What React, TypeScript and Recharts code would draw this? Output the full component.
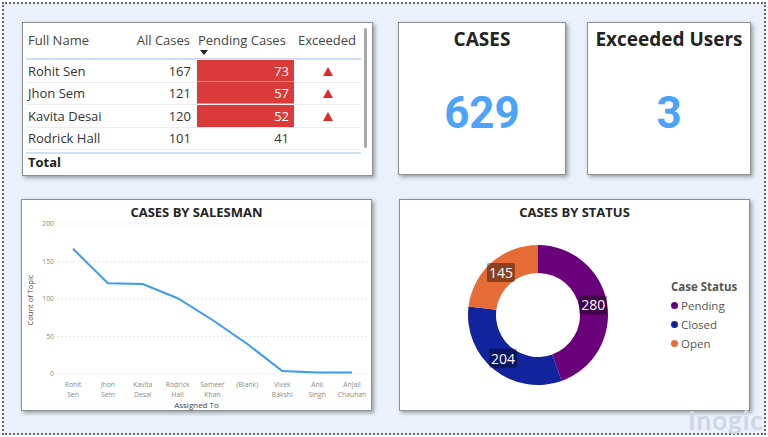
import React from 'react';
import { LineChart, Line, XAxis, YAxis, CartesianGrid, PieChart, Pie, Cell, Legend } from 'recharts';

const tableHeaders = ['Full Name', 'All Cases', 'Pending Cases', 'Exceeded'];
const tableNames = ['Rohit Sen', 'Jhon Sem', 'Kavita Desai', 'Rodrick Hall'];
const tableAllCases = [167, 121, 120, 101];
const tablePending = [73, 57, 52, 41];
const tableExceeded = [true, true, true, false];

const totalCases = 629;
const exceededUsers = 3;

const salesmen = ['Rohit Sen', 'Jhon Sem', 'Kavita Desai', 'Rodrick Hall', 'Sameer Khan', '(Blank)', 'Vivek Bakshi', 'Anil Singh', 'Anjali Chauhan'];
const salesmanCounts = [167, 121, 120, 101, 72, 40, 4, 2, 2];
const yTicks = [0, 50, 100, 150, 200];

const statusNames = ['Pending', 'Closed', 'Open'];
const statusCounts = [280, 204, 145];
const statusColors = ['#6B007B', '#12239E', '#E66C37'];

const lineData = salesmen.map((name, i) => ({ name, count: salesmanCounts[i] }));
const pieData = statusNames.map((name, i) => ({ name, value: statusCounts[i] }));

const FONT = "'Open Sans', 'Noto Sans', sans-serif";

const panel: React.CSSProperties = {
  position: 'absolute',
  background: '#fff',
  border: '1px solid #8f8f8f',
  boxShadow: '2px 2px 4px rgba(0,0,0,0.35)',
  boxSizing: 'border-box',
};

const XTick = (props: any) => {
  const { x, y, payload } = props;
  const parts = String(payload.value).split(' ');
  return (
    <text x={x} y={y} textAnchor="middle" fill="#8a8a8a" fontSize={6.8} fontFamily={FONT}>
      {parts.map((p: string, i: number) => (
        <tspan key={i} x={x} dy={i === 0 ? 5 : 9.5}>{p}</tspan>
      ))}
    </text>
  );
};

const RADIAN = Math.PI / 180;
const PieLabel = (props: any) => {
  const { cx, cy, midAngle, innerRadius, outerRadius, value } = props;
  const r = (innerRadius + outerRadius) / 2;
  const x = cx + r * Math.cos(-midAngle * RADIAN);
  const y = cy + r * Math.sin(-midAngle * RADIAN);
  return (
    <g>
      <rect x={x - 14} y={y - 10} width={28} height={19} rx={2} fill="rgba(0,0,0,0.4)" />
      <text x={x} y={y + 5} textAnchor="middle" fill="#fff" fontSize={14} fontFamily={FONT}>{value}</text>
    </g>
  );
};

const LegendContent = () => {
  return (
    <div style={{ fontFamily: FONT, color: '#555' }}>
      <div style={{ fontWeight: 700, fontSize: 11.5, lineHeight: '19px' }}>Case Status</div>
      {statusNames.map((name, i) => (
        <div key={name} style={{ display: 'flex', alignItems: 'center', fontSize: 11.5, lineHeight: '19px' }}>
          <span style={{ width: 7, height: 7, borderRadius: 4, background: statusColors[i], display: 'inline-block', marginRight: 3 }} />
          {name}
        </div>
      ))}
    </div>
  );
};

export default function App() {
  const rowTops = [37, 59, 82, 104];
  return (
    <div style={{ position: 'absolute', left: 0, top: 0, width: 768, height: 437, background: '#fff', overflow: 'hidden', fontFamily: FONT }}>
      <div style={{ position: 'absolute', left: 2, top: 2, width: 764, height: 433, boxSizing: 'border-box', border: '2px dotted #6a6a6a', background: '#EAF1FA' }} />

      {/* Table */}
      <div style={{ ...panel, left: 22, top: 22, width: 351, height: 154, color: '#333', fontSize: 13 }}>
        <div style={{ position: 'absolute', left: 5, top: 8, color: '#444' }}>{tableHeaders[0]}</div>
        <div style={{ position: 'absolute', right: 351 - 169, top: 8, color: '#444' }}>{tableHeaders[1]}</div>
        <div style={{ position: 'absolute', left: 175, top: 8, color: '#444' }}>{tableHeaders[2]}</div>
        <div style={{ position: 'absolute', left: 275, top: 8, color: '#444' }}>{tableHeaders[3]}</div>
        <div style={{ position: 'absolute', left: 177, top: 27, width: 0, height: 0, borderLeft: '4px solid transparent', borderRight: '4px solid transparent', borderTop: '5px solid #222' }} />
        <div style={{ position: 'absolute', left: 3, top: 35, width: 335, height: 2, background: '#cfe0f3' }} />
        {tableNames.map((n, i) => (
          <React.Fragment key={n}>
            <div style={{ position: 'absolute', left: 3, top: rowTops[i] + 22, width: 335, height: 1, background: '#ececec' }} />
            {tableExceeded[i] && (
              <div style={{ position: 'absolute', left: 174, top: rowTops[i], width: 97, height: 22, background: '#DB3A3A', borderBottom: i < 2 ? '1px solid #e98a8a' : 'none', boxSizing: 'border-box' }} />
            )}
            <div style={{ position: 'absolute', left: 5, top: rowTops[i] + 2 }}>{n}</div>
            <div style={{ position: 'absolute', right: 351 - 170, top: rowTops[i] + 2 }}>{tableAllCases[i]}</div>
            <div style={{ position: 'absolute', right: 351 - 268, top: rowTops[i] + 2, color: tableExceeded[i] ? '#fff' : '#333' }}>{tablePending[i]}</div>
            {tableExceeded[i] && (
              <div style={{ position: 'absolute', left: 300, top: rowTops[i] + 7, width: 0, height: 0, borderLeft: '5px solid transparent', borderRight: '5px solid transparent', borderBottom: '9px solid #E02B2B' }} />
            )}
          </React.Fragment>
        ))}
        <div style={{ position: 'absolute', left: 3, top: 129, width: 335, height: 2, background: '#cfe0f3' }} />
        <div style={{ position: 'absolute', left: 5, top: 130, fontWeight: 700, color: '#222' }}>Total</div>
        <div style={{ position: 'absolute', left: 341, top: 5, width: 3, height: 120, background: '#a8a8a8', borderRadius: 2 }} />
      </div>

      {/* Cards */}
      <div style={{ ...panel, left: 398, top: 22, width: 168, height: 153 }}>
        <div style={{ position: 'absolute', left: 0, right: 0, top: 3, textAlign: 'center', fontWeight: 700, fontSize: 19, color: '#252423' }}>CASES</div>
        <div style={{ position: 'absolute', left: 0, right: 0, top: 64, textAlign: 'center', fontWeight: 700, fontSize: 44, color: '#4DA3F5', fontFamily: "'Roboto', sans-serif" }}>{totalCases}</div>
      </div>
      <div style={{ ...panel, left: 587, top: 22, width: 164, height: 153 }}>
        <div style={{ position: 'absolute', left: -4, right: -4, top: 3, textAlign: 'center', fontWeight: 700, fontSize: 19, color: '#252423', whiteSpace: 'nowrap' }}>Exceeded Users</div>
        <div style={{ position: 'absolute', left: 0, right: 0, top: 64, textAlign: 'center', fontWeight: 700, fontSize: 44, color: '#4DA3F5', fontFamily: "'Roboto', sans-serif" }}>{exceededUsers}</div>
      </div>

      {/* Line chart */}
      <div style={{ ...panel, left: 21, top: 199, width: 351, height: 212 }}>
        <div style={{ position: 'absolute', left: 0, right: 0, top: 3, textAlign: 'center', fontWeight: 700, fontSize: 13, color: '#252423' }}>CASES BY SALESMAN</div>
        <div style={{ position: 'absolute', left: 0, top: 0 }}>
          <LineChart width={349} height={210} data={lineData} margin={{ top: 24, right: 4, left: 0, bottom: 0 }}>
            <CartesianGrid vertical={false} stroke="#d6d6d6" strokeDasharray="1 3" />
            <XAxis dataKey="name" axisLine={false} tickLine={false} interval={0} height={36} padding={{ left: 15, right: 15 }} tick={<XTick />} />
            <YAxis domain={[0, 200]} ticks={yTicks} axisLine={false} tickLine={false} width={36} tickSize={2} tickMargin={2} tick={{ fontSize: 6.8, fill: '#8a8a8a', fontFamily: FONT }} />
            <Line type="linear" dataKey="count" stroke="#3A9BF5" strokeWidth={2} dot={false} isAnimationActive={false} />
          </LineChart>
        </div>
        <div style={{ position: 'absolute', left: 0, right: 0, top: 200, lineHeight: '10px', textAlign: 'center', fontSize: 8, color: '#444' }}>Assigned To</div>
        <div style={{ position: 'absolute', left: 8, top: 100, transform: 'translate(-50%, -50%) rotate(-90deg)', fontSize: 7.5, color: '#444', whiteSpace: 'nowrap' }}>Count of Topic</div>
      </div>

      {/* Donut chart */}
      <div style={{ ...panel, left: 399, top: 199, width: 351, height: 212 }}>
        <div style={{ position: 'absolute', left: 0, right: 0, top: 3, textAlign: 'center', fontWeight: 700, fontSize: 13, color: '#252423' }}>CASES BY STATUS</div>
        <div style={{ position: 'absolute', left: 0, top: 0 }}>
          <PieChart width={349} height={210}>
            <Pie data={pieData} dataKey="value" nameKey="name" cx={133} cy={110} innerRadius={42} outerRadius={70} startAngle={90} endAngle={-270} stroke="none" labelLine={false} label={PieLabel} isAnimationActive={false}>
              {pieData.map((d, i) => (
                <Cell key={d.name} fill={statusColors[i]} />
              ))}
            </Pie>
            <Legend layout="vertical" content={<LegendContent />} wrapperStyle={{ position: 'absolute', left: 271, top: 77, width: 80 }} />
          </PieChart>
        </div>
      </div>

      <div style={{ position: 'absolute', left: 688, top: 404, fontSize: 26, fontWeight: 700, color: '#cdd7e6', fontFamily: "'Lato', sans-serif", letterSpacing: 1 }}>Inogic</div>
    </div>
  );
}
